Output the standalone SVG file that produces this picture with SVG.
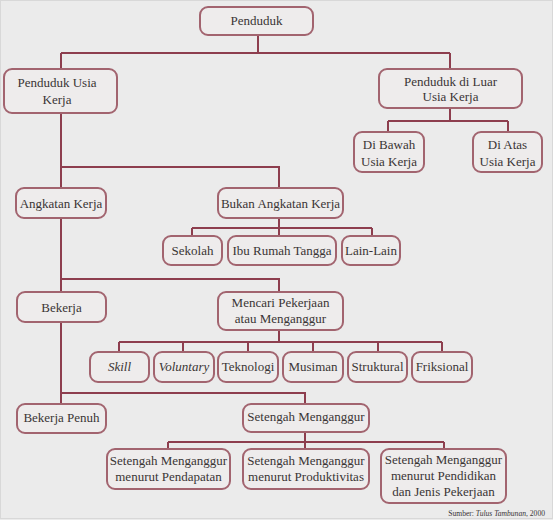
<svg xmlns="http://www.w3.org/2000/svg" width="553" height="520" viewBox="0 0 553 520">
<style>
.bg{fill:#ebebeb}
.box{fill:#eeecec;stroke:#a2646f;stroke-width:2}
.ln{fill:none;stroke:#8d3e4e;stroke-width:2}
text{font-family:"Liberation Serif","Times New Roman",serif;font-size:13px;fill:#3a3535;text-anchor:middle}
.it{font-style:italic}
.src{font-size:7.6px;text-anchor:end}
</style>
<rect class="bg" x="0" y="0" width="553" height="520"/>
<rect x="0.5" y="0.5" width="552" height="518" fill="none" stroke="#d8d8d8" stroke-width="1"/>
<g id="connectors">
<path class="ln" d="M258 35V53M61 53H450M61 53V69M450 53V69"/>
<path class="ln" d="M450 108V121M388 121H508M388 121V132M508 121V132"/>
<path class="ln" d="M61 113V188M61 167H279V188"/>
<path class="ln" d="M279 218V228M192 228H372M192 228V236M279 228V236M372 228V236"/>
<path class="ln" d="M61 218V292M61 279H279V292"/>
<path class="ln" d="M279 330V342M119 342H442M119 342V352M183 342V352M248 342V352M313 342V352M378 342V352M442 342V352"/>
<path class="ln" d="M61 322V404M61 393H305V404"/>
<path class="ln" d="M305 432V442M168 442H444M168 442V449M305 442V449M444 442V449"/>
</g>
<g id="penduduk"><rect class="box" x="200" y="7" width="113" height="28" rx="8"/><text x="256.5" y="25">Penduduk</text></g>
<g id="penduduk-usia-kerja"><rect class="box" x="4" y="69" width="113" height="44" rx="8"/><text x="57" y="87">Penduduk Usia</text><text x="57" y="104">Kerja</text></g>
<g id="penduduk-luar-usia-kerja"><rect class="box" x="379" y="69" width="143" height="39" rx="8"/><text x="450.5" y="86">Penduduk di Luar</text><text x="450.5" y="101">Usia Kerja</text></g>
<g id="di-bawah"><rect class="box" x="354" y="132" width="70" height="40" rx="8"/><text x="389" y="149">Di Bawah</text><text x="389" y="166">Usia Kerja</text></g>
<g id="di-atas"><rect class="box" x="473" y="132" width="69" height="40" rx="8"/><text x="507.5" y="149">Di Atas</text><text x="507.5" y="166">Usia Kerja</text></g>
<g id="angkatan-kerja"><rect class="box" x="16" y="188" width="90" height="30" rx="8"/><text x="61" y="208">Angkatan Kerja</text></g>
<g id="bukan-angkatan-kerja"><rect class="box" x="218" y="188" width="125" height="30" rx="8"/><text x="280.5" y="208">Bukan Angkatan Kerja</text></g>
<g id="sekolah"><rect class="box" x="163" y="236" width="59" height="29" rx="8"/><text x="192.5" y="255">Sekolah</text></g>
<g id="ibu-rumah-tangga"><rect class="box" x="228" y="236" width="108" height="29" rx="8"/><text x="282" y="255">Ibu Rumah Tangga</text></g>
<g id="lain-lain"><rect class="box" x="342" y="236" width="58" height="29" rx="8"/><text x="371" y="255">Lain-Lain</text></g>
<g id="bekerja"><rect class="box" x="17" y="292" width="89" height="30" rx="8"/><text x="61.5" y="312">Bekerja</text></g>
<g id="mencari-pekerjaan"><rect class="box" x="218" y="292" width="125" height="38" rx="8"/><text x="280.5" y="307">Mencari Pekerjaan</text><text x="280.5" y="323">atau Menganggur</text></g>
<g id="skill"><rect class="box" x="90" y="352" width="59" height="30" rx="8"/><text class="it" x="119.5" y="371">Skill</text></g>
<g id="voluntary"><rect class="box" x="154" y="352" width="60" height="30" rx="8"/><text class="it" x="184" y="371">Voluntary</text></g>
<g id="teknologi"><rect class="box" x="218" y="352" width="60" height="30" rx="8"/><text x="248" y="371">Teknologi</text></g>
<g id="musiman"><rect class="box" x="283" y="352" width="60" height="30" rx="8"/><text x="313" y="371">Musiman</text></g>
<g id="struktural"><rect class="box" x="348" y="352" width="59" height="30" rx="8"/><text x="377.5" y="371">Struktural</text></g>
<g id="friksional"><rect class="box" x="412" y="352" width="60" height="30" rx="8"/><text x="442" y="371">Friksional</text></g>
<g id="bekerja-penuh"><rect class="box" x="17" y="404" width="89" height="29" rx="8"/><text x="61.5" y="422">Bekerja Penuh</text></g>
<g id="setengah-menganggur"><rect class="box" x="243" y="404" width="126" height="28" rx="8"/><text x="306" y="421">Setengah Menganggur</text></g>
<g id="sm-pendapatan"><rect class="box" x="107" y="449" width="123" height="40" rx="8"/><text x="168.5" y="465">Setengah Menganggur</text><text x="168.5" y="481">menurut Pendapatan</text></g>
<g id="sm-produktivitas"><rect class="box" x="243" y="449" width="126" height="40" rx="8"/><text x="306" y="465">Setengah Menganggur</text><text x="306" y="481">menurut Produktivitas</text></g>
<g id="sm-pendidikan"><rect class="box" x="381" y="449" width="125" height="54" rx="8"/><text x="443.5" y="464">Setengah Menganggur</text><text x="443.5" y="480">menurut Pendidikan</text><text x="443.5" y="496">dan Jenis Pekerjaan</text></g>
<text class="src" x="545" y="516">Sumber: <tspan class="it">Tulus Tambunan</tspan>, 2000</text>
</svg>
